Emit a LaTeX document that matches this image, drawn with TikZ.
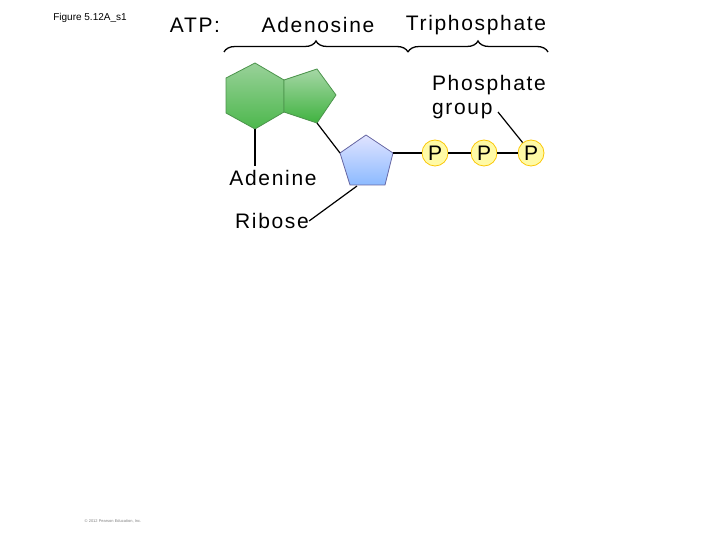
\documentclass[tikz,border=0pt]{standalone}
\usepackage{fontspec}
\setmainfont{Liberation Sans}[LetterSpace=8]
\newfontfamily\plainsans{Liberation Sans}
\usetikzlibrary{decorations.pathreplacing}
\begin{document}
\begin{tikzpicture}[x=1pt,y=-1pt,
  lbl/.style={font=\fontsize{21}{24}\selectfont,inner sep=0pt},
  ln/.style={line width=1.2pt},
  phos/.style={circle,draw=yellow!60!orange,fill=yellow!35,line width=0.8pt,minimum size=26pt,inner sep=0pt,font=\fontsize{21}{22}\selectfont},
  brc/.style={decorate,decoration={brace,amplitude=11pt},line width=1.3pt}]
\useasboundingbox (0,0) rectangle (720,540);
\node[inner sep=0pt,font=\plainsans\fontsize{10}{11}\selectfont] (fig) at (90,18) {Figure 5.12A\_s1};
\node[lbl] (atp) at (195,25) {ATP:};
\node[lbl] (ados) at (318,25) {Adenosine};
\node[lbl] (tri) at (476,25) {Triphosphate};
\coordinate (b1) at (224,52); \coordinate (b2) at (408,52); \coordinate (b3) at (548,52);
\draw[brc] (b1) -- (b2);
\draw[brc] (b2) -- (b3);
% adenine
\draw[green!40!black!70,line width=0.8pt,top color=green!55!black!40!white,bottom color=green!60!black!70]
  (226,78) -- (255,63) -- (284,80) -- (284,112) -- (255,129) -- (226,113) -- cycle;
\draw[green!40!black!70,line width=0.8pt,top color=green!55!black!35!white,bottom color=green!60!black!75]
  (284,80) -- (317,69) -- (336,95) -- (317,123) -- (284,112) -- cycle;
% ribose
\draw[blue!40!black!60,line width=0.8pt,top color=cyan!10!blue!12,bottom color=cyan!40!blue!45]
  (366,135) -- (393,153) -- (385,185) -- (350,185) -- (340,153) -- cycle;
\coordinate (hexb) at (255,129); \coordinate (penv) at (317,123); \coordinate (ribl) at (340,153);
\coordinate (ribr) at (393,153); \coordinate (ribb) at (357,186);
\draw[ln] (penv) -- (ribl);
\node[lbl] (aden) at (273,178) {Adenine};
\node[lbl] (rib) at (272,221) {Ribose};
\draw[ln] (hexb) -- (255,166);
\draw[ln] (rib.east) -- (ribb);
\node[phos] (p1) at (435,153) {P};
\node[phos] (p2) at (484,153) {P};
\node[phos] (p3) at (531,153) {P};
\draw[ln] (ribr) -- (p1); \draw[ln] (p1) -- (p2); \draw[ln] (p2) -- (p3);
\node[lbl,align=left] (pg) at (489,97) {Phosphate\\group};
\coordinate (pgend) at (498,112);
\draw[ln] (pgend) -- (p3);
\node[inner sep=0pt,font=\plainsans\fontsize{4}{5}\selectfont,gray] (copy) at (113,521) {\textcopyright{} 2012 Pearson Education, Inc.};
\end{tikzpicture}
\end{document}
